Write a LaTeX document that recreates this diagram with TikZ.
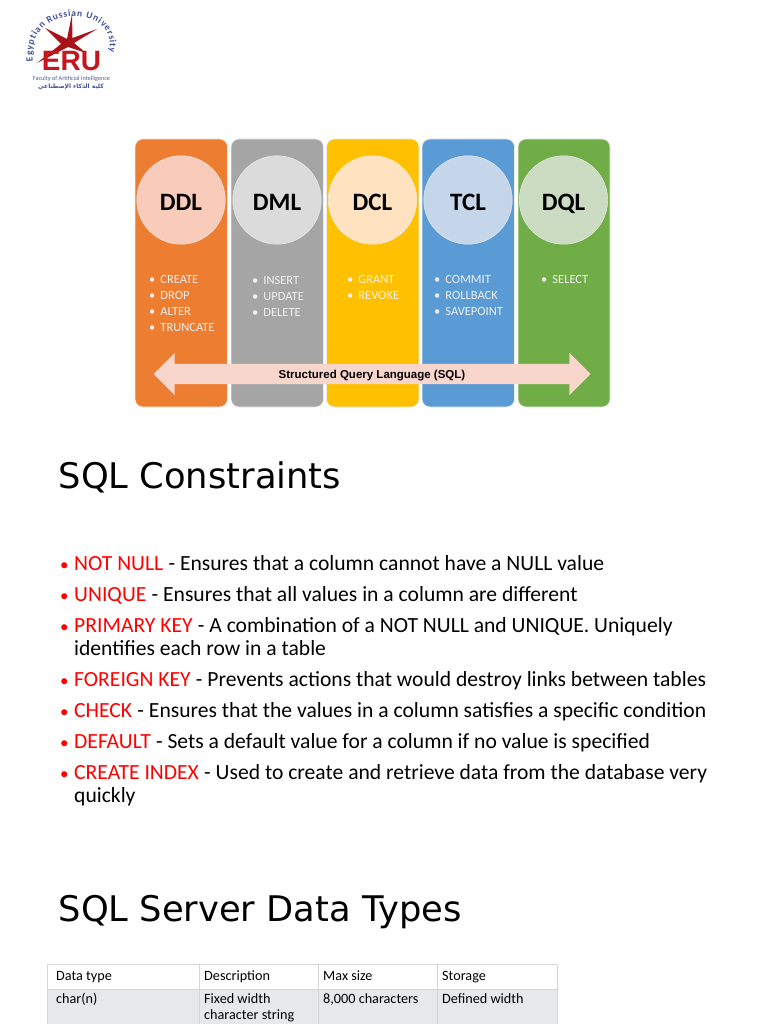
\documentclass[tikz,border=0pt]{standalone}
\usepackage{fontspec}
\setmainfont{Carlito}
\newfontfamily\titlefont{DejaVu Sans}
\newfontfamily\arrowfont{Liberation Sans}
\newfontfamily\arabicfont[Script=Arabic]{DejaVu Sans}
\TeXXeTstate=1
\usetikzlibrary{shapes.arrows,decorations.text}
\definecolor{ddlcol}{HTML}{ED7D31}
\definecolor{dmlcol}{HTML}{A5A5A5}
\definecolor{dclcol}{HTML}{FFC000}
\definecolor{tclcol}{HTML}{5B9BD5}
\definecolor{dqlcol}{HTML}{70AD47}
\definecolor{ddlsoft}{HTML}{F8CBBB}
\definecolor{dmlsoft}{HTML}{DBDBDB}
\definecolor{dclsoft}{HTML}{FFE2C0}
\definecolor{tclsoft}{HTML}{C5D5EA}
\definecolor{dqlsoft}{HTML}{CBDCC2}
\definecolor{arrowcol}{HTML}{F8D6CB}
\definecolor{rowcol}{HTML}{E7E8EA}
\definecolor{linecol}{HTML}{D4D4D4}
\definecolor{logoblue}{HTML}{3F4F9F}
\definecolor{logored}{HTML}{C4161C}
\newcommand{\keydot}{\makebox[15pt][l]{\hspace{1pt}\fontsize{17}{17}\selectfont•}}
\begin{document}
\begin{tikzpicture}[
	x=1pt,y=-1pt,
	colbox/.style={draw=white!85!gray,line width=0.6pt,rounded corners=8pt},
	badge/.style={circle,draw=white!85!gray,line width=0.4pt,minimum size=88.5pt,inner sep=0pt,text height=22pt,text depth=0pt,font=\bfseries\fontsize{25}{25}\selectfont},
	itemlist/.style={anchor=north west,inner sep=0pt,text=white!88!gray,align=left,font=\fontsize{12.5}{16}\selectfont},
	bodyline/.style={anchor=base west,inner sep=0pt,font=\fontsize{21.6}{21.6}\selectfont},
	keyword/.style={anchor=base west,inner sep=0pt,text=red,font=\fontsize{21.6}{21.6}\selectfont},
	heading/.style={anchor=base west,inner sep=0pt,font=\titlefont\fontsize{35.3}{35.3}\selectfont},
	cell/.style={anchor=base west,inner sep=0pt,font=\fontsize{14.2}{14.2}\selectfont},
]
	\useasboundingbox (0,0) rectangle (768,1024);
	\fill[white] (0,0) rectangle (768,1024);

	\path[postaction={decorate,decoration={text along path,text align={fit to path},text={|\rmfamily\bfseries\fontsize{9.5}{9.5}\selectfont\color{logoblue}|Egyptian Russian University}}}] (33,61) .. controls (24,3) and (120,3) .. (109,52);
	\fill[logored!85!black] (72,14) -- (72.5,38) -- (97,29) -- (74,43) -- (86,53) -- (68,47) -- (37,63) -- (61,44) -- (45,28) -- (67,39) -- cycle;
	\node[inner sep=0pt,text=logored,font=\arrowfont\bfseries\fontsize{28}{28}\selectfont] (erulabel) at (71.5,61) {ERU};
	\node[inner sep=0pt,text=logoblue!70!gray,font=\fontsize{6.2}{6.2}\selectfont] (facultylabel) at (71.5,79) {Faculty of Artificial Intelligence};
	\node[inner sep=0pt,text=logoblue,font=\arabicfont\bfseries\fontsize{6}{6}\selectfont] (arabiclabel) at (71,87) {\beginR كلية الذكاء الإصطناعي\endR};

	\draw[colbox,fill=ddlcol] (135,139) rectangle (227.5,407);
	\draw[colbox,fill=dmlcol] (231,139) rectangle (323.5,407);
	\draw[colbox,fill=dclcol] (326.5,139) rectangle (419,407);
	\draw[colbox,fill=tclcol] (422,139) rectangle (514.5,407);
	\draw[colbox,fill=dqlcol] (518,139) rectangle (610,407);

	\node[badge,fill=ddlsoft] (ddl) at (181,200) {DDL};
	\node[badge,fill=dmlsoft] (dml) at (277,200) {DML};
	\node[badge,fill=dclsoft] (dcl) at (372.5,200) {DCL};
	\node[badge,fill=tclsoft] (tcl) at (468,200) {TCL};
	\node[badge,fill=dqlsoft] (dql) at (563.5,200) {DQL};

	\node[itemlist] (ddlitems) at (149,275) {•\hspace{5pt}CREATE\\•\hspace{5pt}DROP\\•\hspace{5pt}ALTER\\•\hspace{5pt}TRUNCATE};
	\node[itemlist] (dmlitems) at (252,276) {•\hspace{5pt}INSERT\\•\hspace{5pt}UPDATE\\•\hspace{5pt}DELETE};
	\node[itemlist] (dclitems) at (347,275) {•\hspace{5pt}GRANT\\•\hspace{5pt}REVOKE};
	\node[itemlist] (tclitems) at (434,275) {•\hspace{5pt}COMMIT\\•\hspace{5pt}ROLLBACK\\•\hspace{5pt}SAVEPOINT};
	\node[itemlist] (dqlitems) at (541,275) {•\hspace{5pt}SELECT};

	\node[double arrow,fill=arrowcol,minimum width=42pt,minimum height=437pt,double arrow head extend=11pt,double arrow head indent=0pt,inner xsep=0pt,text height=12pt,text depth=4pt,inner ysep=2pt,font=\arrowfont\bfseries\fontsize{11.5}{11.5}\selectfont] (sqlarrow) at (372,374) {Structured Query Language (SQL)};

	\node[heading] (constraints) at (58.5,488) {SQL Constraints};

	\node[keyword] (notnull) at (59,570) {\keydot NOT NULL};
	\node[bodyline] at (notnull.base east) {\ - Ensures that a column cannot have a NULL value};
	\node[keyword] (unique) at (59,601) {\keydot UNIQUE};
	\node[bodyline] at (unique.base east) {\ - Ensures that all values in a column are different};
	\node[keyword] (primary) at (59,632) {\keydot PRIMARY KEY};
	\node[bodyline] at (primary.base east) {\ - A combination of a NOT NULL and UNIQUE. Uniquely};
	\node[bodyline] (primarytwo) at (74,655) {identifies each row in a table};
	\node[keyword] (foreign) at (59,686) {\keydot FOREIGN KEY};
	\node[bodyline] at (foreign.base east) {\ - Prevents actions that would destroy links between tables};
	\node[keyword] (check) at (59,717) {\keydot CHECK};
	\node[bodyline] at (check.base east) {\ - Ensures that the values in a column satisfies a specific condition};
	\node[keyword] (default) at (59,748.5) {\keydot DEFAULT};
	\node[bodyline] at (default.base east) {\ - Sets a default value for a column if no value is specified};
	\node[keyword] (createindex) at (59,779) {\keydot CREATE INDEX};
	\node[bodyline] at (createindex.base east) {\ - Used to create and retrieve data from the database very};
	\node[bodyline] (createtwo) at (74,802) {quickly};

	\node[heading] (datatypes) at (58.5,921) {SQL Server Data Types};

	\fill[rowcol] (47,989) rectangle (557,1024);
	\draw[linecol,line width=0.8pt] (47,964.5) -- (557,964.5);
	\draw[linecol,line width=0.8pt] (47,989) -- (557,989);
	\draw[linecol,line width=0.8pt] (47,964.5) -- (47,1024);
	\draw[linecol,line width=0.8pt] (199,964.5) -- (199,1024);
	\draw[linecol,line width=0.8pt] (318,964.5) -- (318,1024);
	\draw[linecol,line width=0.8pt] (437,964.5) -- (437,1024);
	\draw[linecol,line width=0.8pt] (557,964.5) -- (557,1024);

	\node[cell] (typehead) at (56,980) {Data type};
	\node[cell] (deschead) at (204,980) {Description};
	\node[cell] (sizehead) at (323,980) {Max size};
	\node[cell] (storehead) at (442,980) {Storage};
	\node[cell] (typeval) at (56,1003) {char(n)};
	\node[cell] (descval) at (204,1003) {Fixed width};
	\node[cell] (desctwo) at (204,1019) {character string};
	\node[cell] (sizeval) at (323,1003) {8,000 characters};
	\node[cell] (storeval) at (442,1003) {Defined width};
\end{tikzpicture}
\end{document}
